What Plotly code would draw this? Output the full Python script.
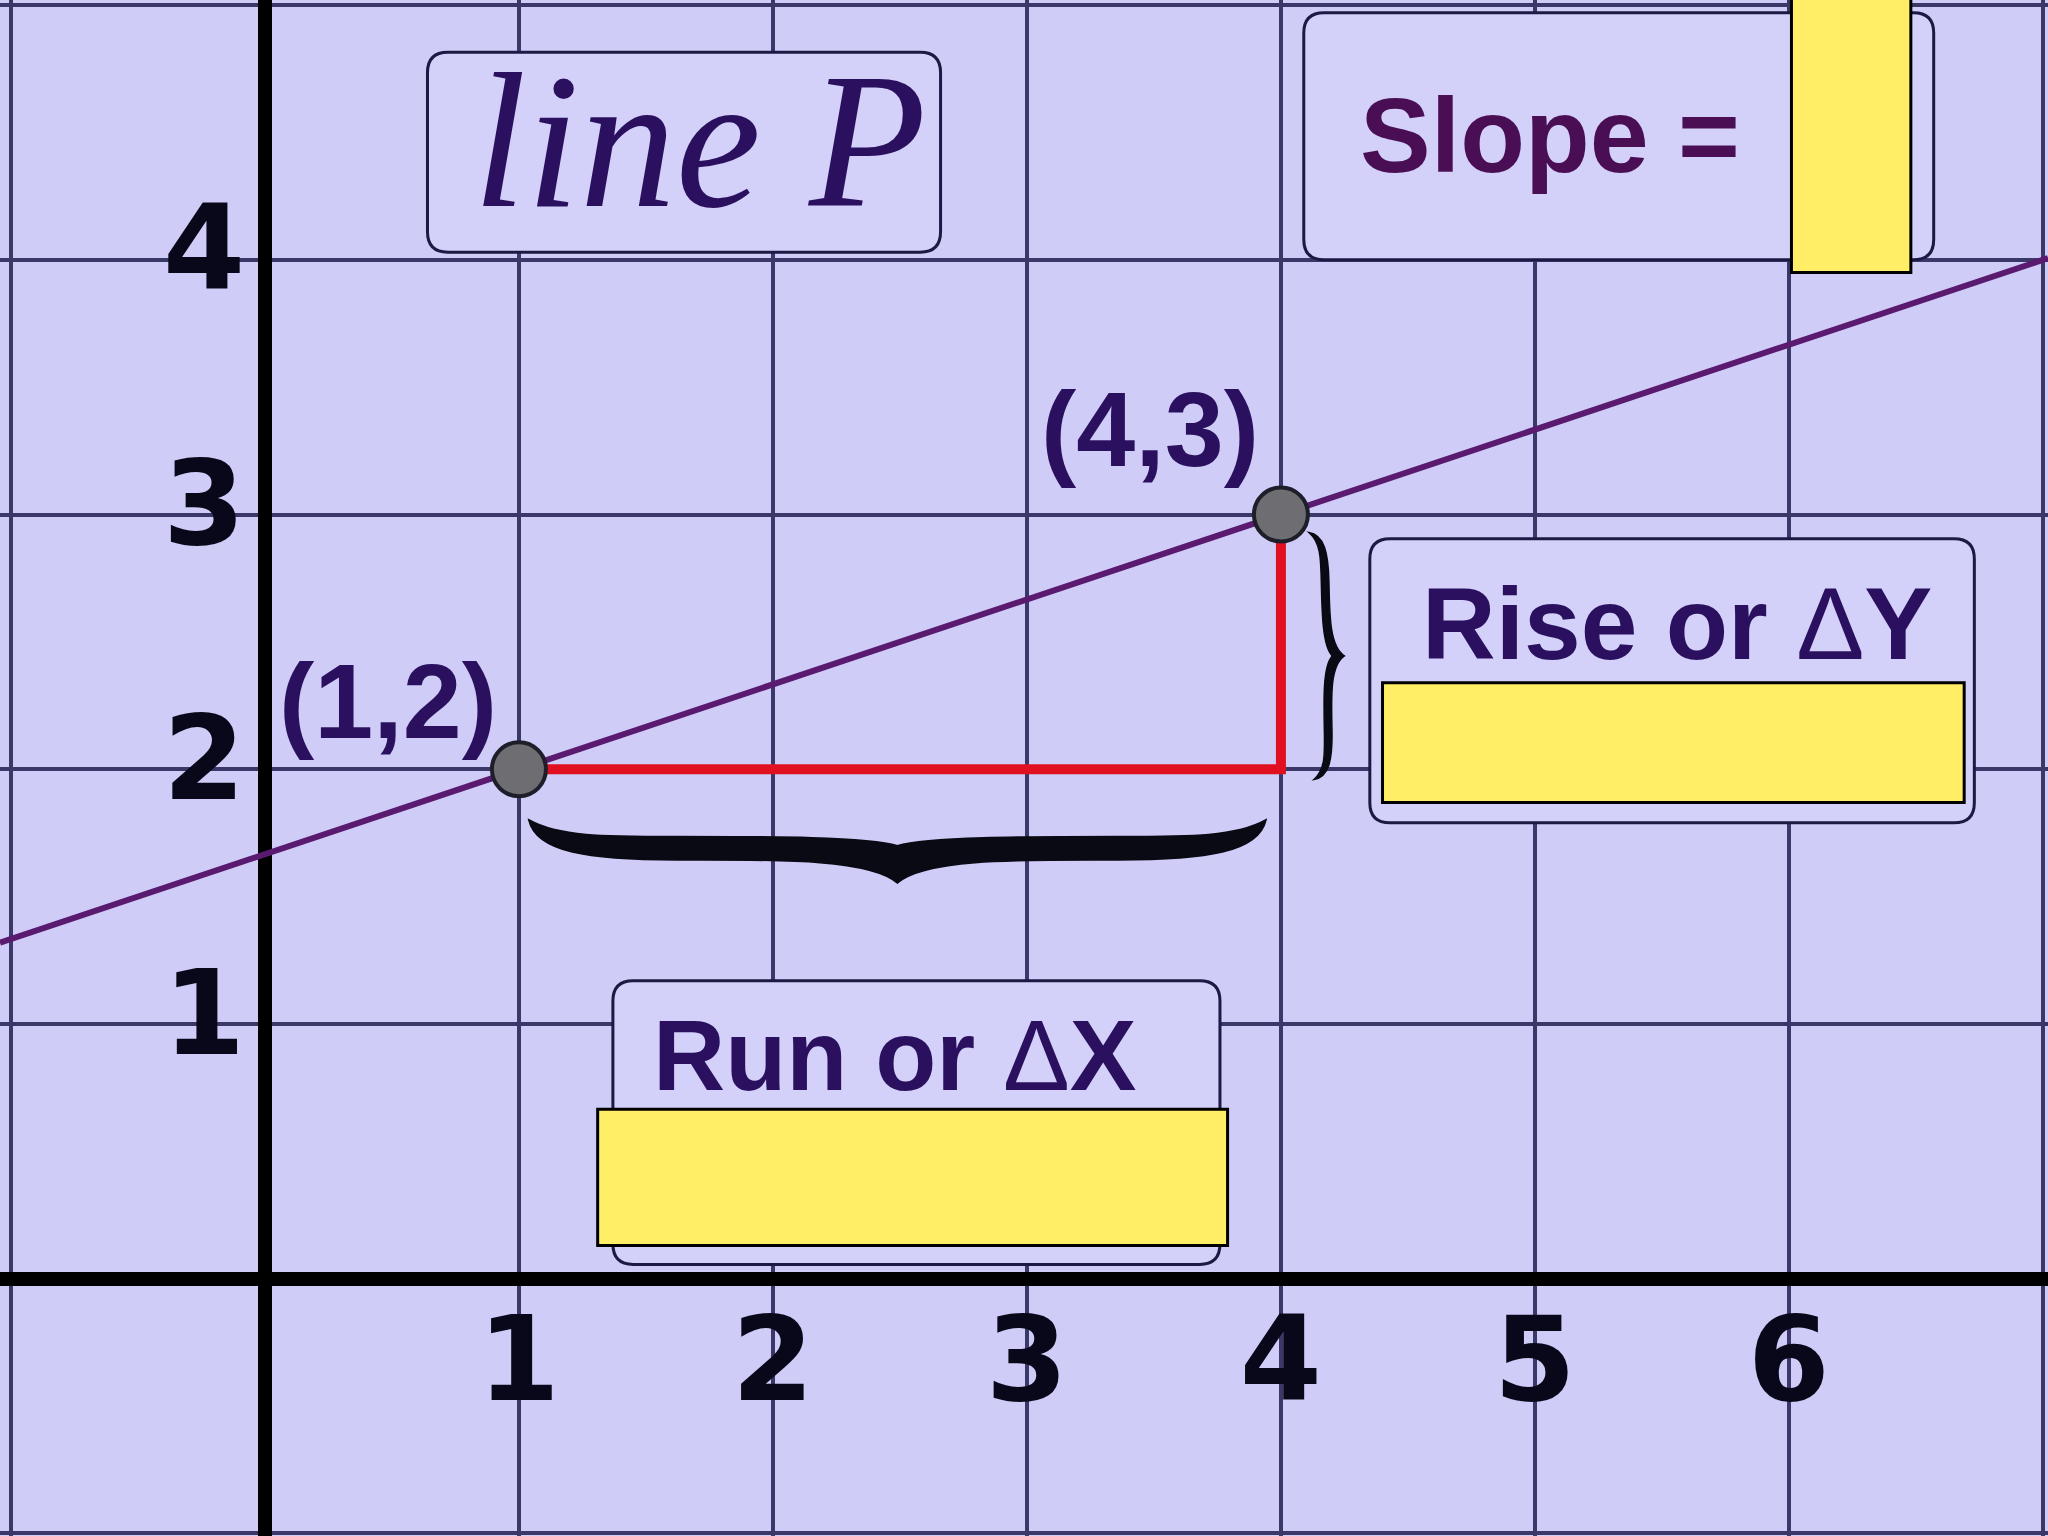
import numpy as np
import plotly.graph_objects as go

# values
POINTS_X = [1, 4]
POINTS_Y = [2, 3]
POINT_LABELS = ["(1,2)", "(4,3)"]
X_TICKS = [1, 2, 3, 4, 5, 6]
Y_TICKS = [1, 2, 3, 4]
X_RANGE = [-1.043, 7.02]
Y_RANGE = [-1.01, 5.02]

BG = "#CFCDF8"
BOX_FILL = "#D3D1FA"
BOX_LINE = "#1C1A44"
GRID = "#3A3868"
YELLOW = "#FFEE66"
INK = "#2A105E"
LABEL_YSHIFT = [68, 86]


def rounded_rect(x0, y0, x1, y1, r=0.08):
    return (
        f"M {x0 + r},{y0} L {x1 - r},{y0} Q {x1},{y0} {x1},{y0 + r} "
        f"L {x1},{y1 - r} Q {x1},{y1} {x1 - r},{y1} L {x0 + r},{y1} "
        f"Q {x0},{y1} {x0},{y1 - r} L {x0},{y0 + r} Q {x0},{y0} {x0 + r},{y0} Z"
    )


def brace_path(p0, p1, normal, band, depth, thick):
    p0 = np.array(p0, float)
    p1 = np.array(p1, float)
    u = (p1 - p0) / np.linalg.norm(p1 - p0)
    n = np.array(normal, float)
    L = np.linalg.norm(p1 - p0)
    m = L / 2

    def pt(s, k):
        q = p0 + s * u + k * n
        return f"{q[0]:.4f},{q[1]:.4f}"

    lo = band + thick / 2
    hi = band - thick / 2
    seg = [
        f"M {pt(0, 0)}",
        f"C {pt(0.01 * L, lo * 0.8)} {pt(0.08 * L, lo)} {pt(0.2 * L, lo)}",
        f"C {pt(0.33 * L, lo)} {pt(m - 0.04 * L, lo * 0.95)} {pt(m, depth)}",
        f"C {pt(m + 0.04 * L, lo * 0.95)} {pt(L - 0.33 * L, lo)} {pt(L - 0.2 * L, lo)}",
        f"C {pt(L - 0.08 * L, lo)} {pt(L - 0.01 * L, lo * 0.8)} {pt(L, 0)}",
        f"C {pt(L - 0.04 * L, hi)} {pt(L - 0.1 * L, hi)} {pt(L - 0.2 * L, hi)}",
        f"C {pt(L - 0.33 * L, hi)} {pt(m + 0.04 * L, hi)} {pt(m, depth - thick * 1.6)}",
        f"C {pt(m - 0.04 * L, hi)} {pt(0.33 * L, hi)} {pt(0.2 * L, hi)}",
        f"C {pt(0.1 * L, hi)} {pt(0.04 * L, hi)} {pt(0, 0)} Z",
    ]
    return " ".join(seg)


run = POINTS_X[1] - POINTS_X[0]
rise = POINTS_Y[1] - POINTS_Y[0]
slope = rise / run
line_x = np.array(X_RANGE)
line_y = POINTS_Y[0] + slope * (line_x - POINTS_X[0])

fig = go.Figure()

fig.add_trace(go.Scatter(x=line_x, y=line_y, mode="lines",
                         line=dict(color="#5A1A70", width=6), hoverinfo="skip"))
fig.add_trace(go.Scatter(x=[POINTS_X[0], POINTS_X[1], POINTS_X[1]],
                         y=[POINTS_Y[0], POINTS_Y[0], POINTS_Y[1]], mode="lines",
                         line=dict(color="#E01020", width=10), hoverinfo="skip"))
fig.add_trace(go.Scatter(x=POINTS_X, y=POINTS_Y, mode="markers",
                         marker=dict(size=54, color="#6E6E72", line=dict(color="#1E1E2A", width=4)),
                         hoverinfo="skip"))
fig.add_trace(go.Scatter(x=X_TICKS, y=[-0.36] * len(X_TICKS), mode="text",
                         text=[str(t) for t in X_TICKS],
                         textfont=dict(family="DejaVu Sans", size=118, color="#08081A", weight="bold"),
                         hoverinfo="skip"))
fig.add_trace(go.Scatter(x=[-0.24] * len(Y_TICKS), y=Y_TICKS, mode="text",
                         text=[str(t) for t in Y_TICKS],
                         textfont=dict(family="DejaVu Sans", size=118, color="#08081A", weight="bold"),
                         hoverinfo="skip"))

shapes = []
# labelled boxes
for (x0, y0, x1, y1) in [(0.64, 4.03, 2.66, 4.815), (4.09, 4.0, 6.57, 4.97),
                         (4.35, 1.79, 6.73, 2.905), (1.37, 0.056, 3.76, 1.17)]:
    shapes.append(dict(type="path", path=rounded_rect(x0, y0, x1, y1), layer="between",
                       fillcolor=BOX_FILL, line=dict(color=BOX_LINE, width=3)))
# answer blanks
for (x0, y0, x1, y1) in [(6.01, 3.95, 6.48, 5.1), (4.40, 1.87, 6.69, 2.34), (1.31, 0.13, 3.79, 0.665)]:
    shapes.append(dict(type="rect", x0=x0, y0=y0, x1=x1, y1=y1, layer="between",
                       fillcolor=YELLOW, line=dict(color="#000000", width=3)))
# braces for run and rise
shapes.append(dict(type="path", layer="above", fillcolor="#0A0A14", line=dict(color="#0A0A14", width=2),
                   path=brace_path((POINTS_X[0] + 0.04, POINTS_Y[0] - 0.2), (POINTS_X[1] - 0.06, POINTS_Y[0] - 0.2),
                                   (0, -1), 0.11, 0.245, 0.09)))
shapes.append(dict(type="path", layer="above", fillcolor="#0A0A14", line=dict(color="#0A0A14", width=1.5),
                   path=brace_path((POINTS_X[1] + 0.11, POINTS_Y[1] - 0.07), (POINTS_X[1] + 0.13, POINTS_Y[0] - 0.04),
                                   (1, 0), 0.06, 0.13, 0.03)))

annotations = [
    dict(x=1.71, y=4.465, text="<i>line P</i>", showarrow=False,
         font=dict(family="Liberation Serif", size=192, color=INK)),
    dict(x=5.06, y=4.49, text="<b>Slope =</b>", showarrow=False,
         font=dict(family="Liberation Sans", size=106, color="#4A0E55")),
    dict(x=5.56, y=2.57, text="<b>Rise or </b>Δ<b>Y</b>", showarrow=False,
         font=dict(family="Liberation Sans", size=102, color=INK)),
    dict(x=2.48, y=0.88, text="<b>Run or </b>Δ<b>X</b>", showarrow=False,
         font=dict(family="Liberation Sans", size=100, color=INK)),
]
for px, py, label, ys in zip(POINTS_X, POINTS_Y, POINT_LABELS, LABEL_YSHIFT):
    annotations.append(dict(x=px, y=py, text=f"<b>{label}</b>", showarrow=False,
                            xanchor="right", yanchor="middle", xshift=-20, yshift=ys,
                            font=dict(family="Liberation Sans", size=106, color=INK)))

fig.update_layout(
    width=2048, height=1536,
    margin=dict(l=0, r=0, t=0, b=0),
    paper_bgcolor=BG, plot_bgcolor=BG,
    showlegend=False,
    shapes=shapes, annotations=annotations,
)
fig.update_xaxes(range=X_RANGE, dtick=1, tick0=0, showticklabels=False, ticks="",
                 showgrid=True, gridcolor=GRID, gridwidth=3.5,
                 zeroline=True, zerolinecolor="#000000", zerolinewidth=14, showline=False)
fig.update_yaxes(range=Y_RANGE, dtick=1, tick0=0, showticklabels=False, ticks="",
                 showgrid=True, gridcolor=GRID, gridwidth=3.5,
                 zeroline=True, zerolinecolor="#000000", zerolinewidth=14, showline=False)

fig.write_html("out.html", config={"displayModeBar": False},
               post_script="document.body.style.margin='0';")
